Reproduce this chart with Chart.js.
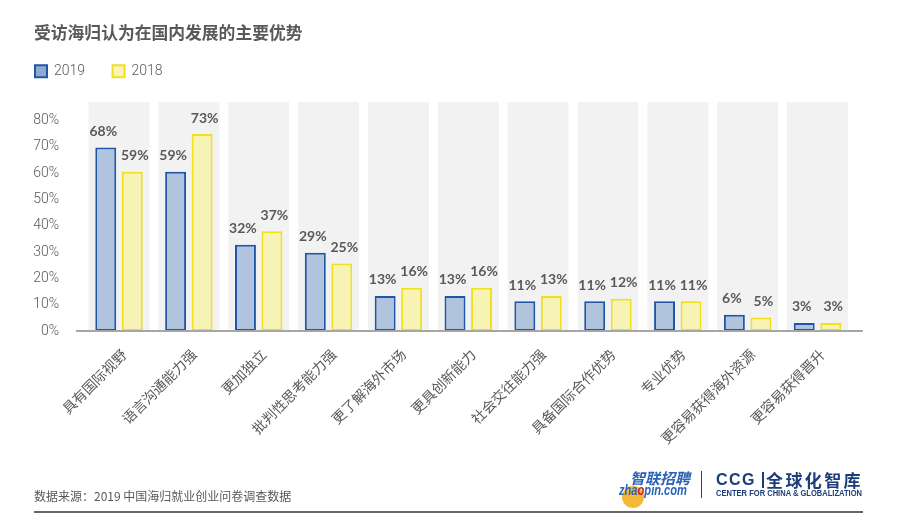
<!DOCTYPE html>
<html>
<head>
<meta charset="utf-8">
<script src="https://cdn.jsdelivr.net/npm/chart.js@4.4.1/dist/chart.umd.min.js"></script>
<style>
html,body{margin:0;padding:0;background:#fff;}
#wrap{position:relative;width:899px;height:522px;overflow:hidden;background:#fff;}
#c{position:absolute;left:0;top:0;}
.abs{position:absolute;white-space:nowrap;}
</style>
</head>
<body>
<div id="wrap">
  <canvas id="c" width="899" height="522"></canvas>
  <div class="abs" style="left:34px;top:487px;font:12px 'Noto Sans CJK SC';color:#595959;line-height:18px;">数据来源：2019 中国海归就业创业问卷调查数据</div>
  <div class="abs" style="left:34px;top:511px;width:829px;height:2px;background:#666;"></div>
  <!-- zhaopin logo -->
  <div class="abs" style="left:622px;top:486px;width:22px;height:22px;border-radius:50%;background:#f6b935;"></div>
  <div class="abs" style="left:630px;top:468px;font:italic bold 15px 'Noto Sans CJK SC';color:#2a63b8;line-height:20px;">智联招聘</div>
  <div class="abs" id="zp" style="left:619px;top:481px;font:italic bold 15px 'Liberation Sans';color:#2a63b8;line-height:18px;transform-origin:0 0;">zha<span style="color:#c8202a">o</span>pin.com</div>
  <div class="abs" style="left:701px;top:471px;width:1px;height:27px;background:#444;"></div>
  <!-- CCG logo -->
  <div class="abs" style="left:716px;top:470px;font:bold 16px 'Liberation Sans';color:#1c3d77;line-height:20px;letter-spacing:1.5px;">CCG</div>
  <div class="abs" style="left:762px;top:472px;width:2px;height:16px;background:#1c3d77;"></div>
  <div class="abs" style="left:766px;top:469px;font:bold 17px 'Noto Sans CJK SC';color:#1c3d77;line-height:22px;letter-spacing:2.4px;">全球化智库</div>
  <div class="abs" id="ccgsub" style="left:716px;top:488px;font:bold 9px 'Liberation Sans';color:#1c3d77;line-height:10px;transform-origin:0 0;">CENTER FOR CHINA &amp; GLOBALIZATION</div>
</div>
<script>
// ---- data ----
const titleText = '受访海归认为在国内发展的主要优势';
const categories = ['具有国际视野','语言沟通能力强','更加独立','批判性思考能力强','更了解海外市场','更具创新能力','社会交往能力强','具备国际合作优势','专业优势','更容易获得海外资源','更容易获得晋升'];
const seriesNames = ['2019','2018'];
const values2019 = [68,59,32,29,13,13,11,11,11,6,3];
const values2018 = [59,73,37,25,16,16,13,12,11,5,3];
const yTickStep = 10;
const yTickTop = 80;

// ---- styles ----
const barAxisMax = 85;
const tickAxisMax = 87.2;
const bgValues = categories.map(() => barAxisMax);
const fills = ['#b0c4de', '#f7f3b5'];
const borders = ['#1f56a8', '#f0e01e'];
const legendFills = ['#8eaad3', '#f8f5bb'];
const GREY = '#595959';

// fit the logo sub-texts
(function(){
  const s = document.getElementById('ccgsub');
  s.style.transform = 'scaleX(' + (146 / s.getBoundingClientRect().width) + ')';
  const z = document.getElementById('zp');
  z.style.transform = 'scaleX(' + (68 / z.getBoundingClientRect().width) + ')';
})();

const titlePlugin = {
  id: 'titleText',
  afterDraw(chart) {
    const ctx = chart.ctx;
    ctx.save();
    ctx.font = 'bold 16.8px "Noto Sans CJK SC"';
    ctx.fillStyle = GREY;
    ctx.textBaseline = 'middle';
    ctx.textAlign = 'left';
    ctx.fillText(titleText, 34, 32.7);
    ctx.restore();
  }
};

const axisLinePlugin = {
  id: 'axisLine',
  afterDatasetsDraw(chart) {
    const ctx = chart.ctx, a = chart.chartArea;
    const y = chart.scales.y.getPixelForValue(0);
    ctx.save();
    ctx.strokeStyle = '#a6a6a6';
    ctx.lineWidth = 2;
    ctx.beginPath();
    ctx.moveTo(a.left - 8, y);
    ctx.lineTo(a.right + 10.5, y);
    ctx.stroke();
    ctx.restore();
  }
};

const valueLabelPlugin = {
  id: 'valueLabels',
  afterDatasetsDraw(chart) {
    const ctx = chart.ctx;
    ctx.save();
    ctx.font = 'bold 14px Lato';
    ctx.fillStyle = GREY;
    ctx.textAlign = 'center';
    ctx.textBaseline = 'middle';
    [0, 1].forEach(di => {
      const meta = chart.getDatasetMeta(di);
      const vals = chart.data.datasets[di].data;
      meta.data.forEach((el, j) => {
        ctx.fillText(vals[j] + '%', el.x + (di === 0 ? -2.5 : 2.5), el.y - 16);
      });
    });
    ctx.restore();
  }
};

new Chart(document.getElementById('c'), {
  type: 'bar',
  data: {
    labels: categories,
    datasets: [
      { label: seriesNames[0], data: values2019, xAxisID: 'x', yAxisID: 'yBar',
        backgroundColor: fills[0], borderColor: borders[0], borderWidth: 2, borderSkipped: false,
        categoryPercentage: 0.759, barPercentage: 0.79, order: 1 },
      { label: seriesNames[1], data: values2018, xAxisID: 'x', yAxisID: 'yBar',
        backgroundColor: fills[1], borderColor: borders[1], borderWidth: 2, borderSkipped: false,
        categoryPercentage: 0.759, barPercentage: 0.79, order: 1 },
      { label: 'bg', data: bgValues, xAxisID: 'x', yAxisID: 'yBar',
        backgroundColor: '#f2f2f2', borderWidth: 0, grouped: false,
        categoryPercentage: 0.873, barPercentage: 1, order: 2 }
    ]
  },
  options: {
    responsive: false,
    animation: false,
    devicePixelRatio: 1,
    layout: { padding: { left: 7.5, right: 46.6, top: 36.8, bottom: 0 } },
    plugins: {
      title: { display: false },
      tooltip: { enabled: false },
      legend: {
        display: true,
        position: 'top',
        align: 'start',
        labels: {
          boxWidth: 12, boxHeight: 12, padding: 27.5,
          color: GREY,
          font: { family: 'Roboto', size: 14, weight: '300' },
          generateLabels(chart) {
            const items = Chart.defaults.plugins.legend.labels.generateLabels(chart);
            return items.filter(it => it.datasetIndex < 2).map(it => {
              it.fillStyle = legendFills[it.datasetIndex];
              it.strokeStyle = borders[it.datasetIndex];
              it.lineWidth = 2;
              return it;
            });
          }
        }
      }
    },
    scales: {
      x: {
        type: 'category',
        position: 'bottom',
        grid: { display: false, drawTicks: false },
        border: { display: false },
        ticks: {
          color: GREY, autoSkip: false, maxRotation: 45, minRotation: 45, padding: 15, labelOffset: 5,
          font: { family: '"Noto Sans CJK SC"', size: 14 }
        },
        afterFit(a) { a.height = 191; }
      },
      xTop: {
        type: 'category',
        position: 'top',
        grid: { display: false, drawTicks: false },
        border: { display: false },
        ticks: { display: false },
        afterFit(a) { a.height = 13.4; }
      },
      y: {
        type: 'linear',
        position: 'left',
        min: 0, max: tickAxisMax,
        grid: { display: false, drawTicks: false },
        border: { display: false },
        ticks: {
          stepSize: yTickStep, padding: 25, color: GREY,
          font: { family: 'Roboto', size: 14, weight: '300' },
          callback: v => (v % yTickStep === 0 && v <= yTickTop) ? v + '%' : ''
        },
        afterFit(a) { a.width = 76.6; }
      },
      yBar: {
        type: 'linear',
        display: false,
        min: 0, max: barAxisMax
      }
    }
  },
  plugins: [titlePlugin, axisLinePlugin, valueLabelPlugin]
});
</script>
</body>
</html>
